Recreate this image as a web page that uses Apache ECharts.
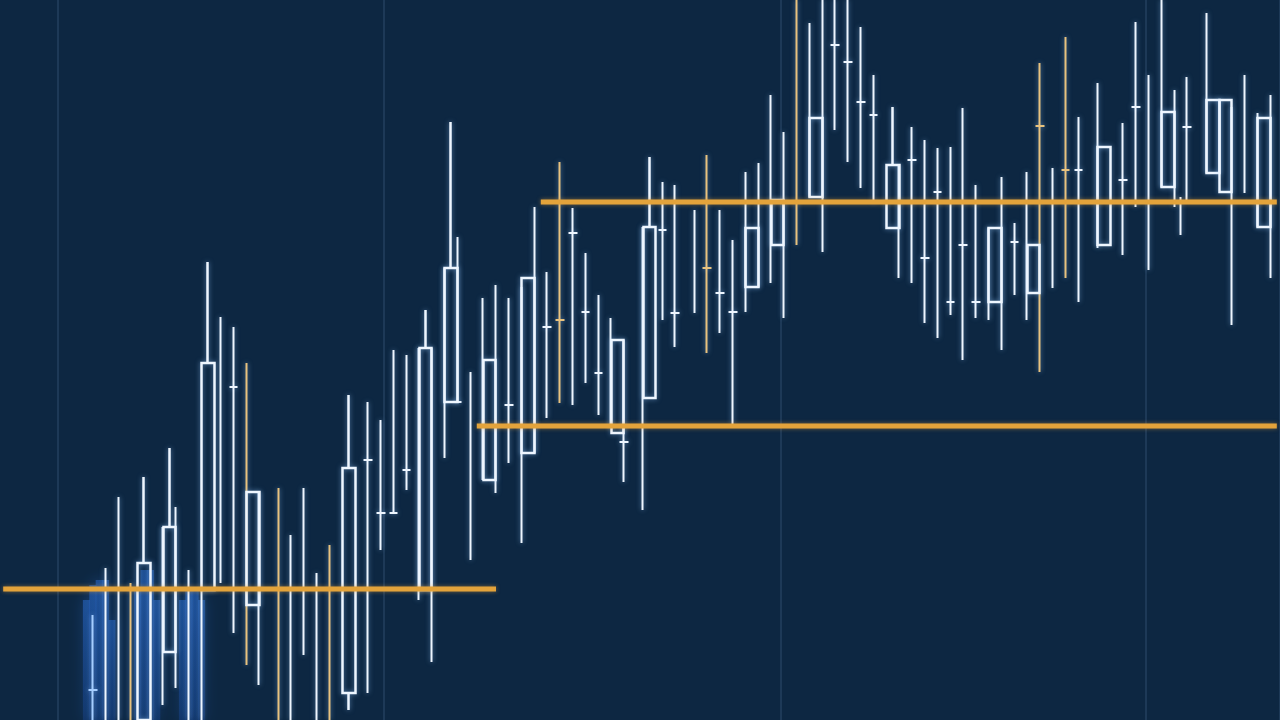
<!DOCTYPE html>
<html>
<head>
<meta charset="utf-8">
<script src="https://cdn.jsdelivr.net/npm/echarts@6/dist/echarts.min.js"></script>
<style>
html,body{margin:0;padding:0;background:#0d2742;}
#chart{width:1280px;height:720px;}
</style>
</head>
<body>
<div id="chart"></div>
<script>
// ---- data (prices; slot = candle position index) ----
const slotCount = 200;
const gridSlots = [9, 60, 122, 179];
// [fromSlot, toSlot, price]
const levels = [[0, 77, 131], [74, 199, 294], [84, 199, 518]];
// thin candles: [slot, low, high, tick(null = none), tint]
const wicks = [
  [14, 0, 105, 30, 'b'], [16, 0, 152, null, ''], [18, 0, 223, null, ''], [20, 0, 137, null, 'y'],
  [25, 15, 193, null, ''], [27, 32, 213, null, ''], [29, 0, 150, null, ''], [31, 0, 130, null, ''],
  [34, 137, 403, null, ''], [36, 87, 393, 333, ''], [38, 55, 357, null, 'y'], [40, 35, 228, null, ''],
  [43, 0, 232, null, 'y'], [45, 0, 185, null, ''], [47, 65, 232, null, ''], [49, 0, 147, null, ''],
  [51, 0, 175, null, 'y'], [57, 27, 318, 260, ''], [59, 170, 300, 207, ''], [61, 207, 370, 207, ''],
  [63, 230, 365, 250, ''], [65, 120, 372, null, ''], [67, 58, 372, null, ''], [69, 262, 452, null, ''],
  [71, 318, 483, 318, ''], [73, 160, 348, null, ''], [75, 240, 422, null, ''], [77, 227, 435, null, ''],
  [79, 257, 422, 315, ''], [81, 177, 433, null, ''], [83, 267, 513, null, ''], [85, 302, 448, 393, ''],
  [87, 317, 558, 400, 'y'], [89, 315, 512, 487, ''], [91, 337, 467, 408, ''], [93, 305, 425, 347, ''],
  [95, 292, 402, null, ''], [97, 238, 380, 278, ''], [100, 210, 493, null, ''], [103, 400, 538, 490, ''],
  [105, 373, 535, 407, ''], [108, 407, 510, null, ''], [110, 367, 565, 452, 'y'], [112, 387, 510, 427, ''],
  [114, 295, 480, 408, ''], [116, 408, 548, null, ''], [118, 433, 557, null, ''], [120, 437, 625, null, ''],
  [122, 402, 588, null, ''], [124, 475, 720, null, 'y'], [126, 523, 697, null, ''], [128, 468, 720, null, ''],
  [130, 590, 720, 675, ''], [132, 558, 720, 658, ''], [134, 532, 693, 618, ''], [136, 517, 645, 605, ''],
  [140, 442, 555, null, ''], [142, 437, 593, 560, ''], [144, 397, 580, 462, ''], [146, 382, 572, 528, ''],
  [148, 405, 573, 418, ''], [150, 360, 612, 475, ''], [152, 402, 535, 418, ''], [154, 400, 492, null, ''],
  [156, 370, 543, null, ''], [158, 425, 497, 478, ''], [160, 400, 548, null, ''], [162, 348, 657, 594, 'y'],
  [164, 432, 552, null, ''], [166, 442, 683, 550, 'y'], [168, 418, 603, 550, ''], [171, 472, 637, null, ''],
  [175, 465, 597, 540, ''], [177, 513, 698, 613, ''], [179, 450, 645, null, ''], [181, 533, 720, null, ''],
  [183, 513, 630, null, ''], [184, 485, 523, null, ''], [185, 520, 643, 593, ''], [188, 547, 707, null, ''],
  [192, 395, 613, null, ''], [194, 527, 645, null, ''], [196, 493, 607, null, ''], [198, 442, 625, null, '']
];
// hollow candles: [slot, open, close, low, high]
const boxes = [
  [22, 0, 157, 0, 243], [26, 68, 193, 68, 272], [32, 130, 357, 130, 458], [39, 115, 228, 115, 228],
  [54, 27, 252, 10, 325], [66, 130, 372, 130, 410], [70, 318, 452, 318, 598], [76, 240, 360, 240, 360],
  [82, 267, 442, 267, 442], [96, 287, 380, 287, 380], [101, 322, 493, 322, 563], [117, 433, 492, 433, 492],
  [121, 475, 520, 475, 520], [127, 523, 602, 523, 602], [139, 492, 555, 492, 613], [155, 418, 492, 418, 492],
  [161, 427, 475, 427, 475], [172, 475, 573, 475, 573], [182, 533, 608, 533, 608], [189, 547, 620, 547, 620],
  [191, 528, 620, 528, 620], [197, 493, 602, 493, 602]
];
const glowSlots = [13, 14, 15, 16, 17, 21, 22, 23, 24, 28, 29, 30, 31];
const glowValues = [120, 135, 140, 140, 100, 130, 150, 150, 120, 120, 130, 130, 120];

// ---- build ----
const WHITE = '#eef6ff', YEL = '#e8c27e', BLUE = '#a5cdff', ORANGE = '#e3a33b';
const cats = Array.from({length: slotCount}, (_, i) => String(i));
const tintColor = t => t === 'y' ? YEL : (t === 'b' ? BLUE : WHITE);
const ticked = [], plain = [];
wicks.forEach(([s, lo, hi, tick, tint]) => {
  const c = tintColor(tint);
  const style = {borderColor: c, borderColor0: c};
  if (tick == null) plain.push({value: [String(s), hi, hi, lo, hi], itemStyle: style});
  else ticked.push({value: [String(s), tick, tick, lo, hi], itemStyle: style});
});
const boxData = boxes.map(([s, o, c, l, h]) => [String(s), o, c, l, h]);
const glowData = glowSlots.map((s, i) => [String(s), glowValues[i]]);

const candleBase = {
  type: 'candlestick',
  encode: {x: 0, y: [1, 2, 3, 4]},
  animation: false,
  silent: true,
  itemStyle: {
    color: 'transparent', color0: 'transparent',
    borderColor: WHITE, borderColor0: WHITE, borderWidth: 2,
    shadowBlur: 5, shadowColor: 'rgba(150,200,255,0.55)'
  }
};

const series = [
  {
    type: 'bar', data: glowData, barWidth: 7, silent: true, animation: false, z: 1,
    itemStyle: {
      color: {type: 'linear', x: 0, y: 0, x2: 0, y2: 1, colorStops: [
        {offset: 0, color: 'rgba(40,105,200,0.55)'},
        {offset: 1, color: 'rgba(25,75,160,0.35)'}
      ]},
      shadowBlur: 14, shadowColor: 'rgba(50,120,230,0.45)'
    }
  },
  Object.assign({}, candleBase, {name: 'plain', data: plain, barWidth: 1, z: 3}),
  Object.assign({}, candleBase, {name: 'ticked', data: ticked, barWidth: 9, z: 3}),
  Object.assign({}, candleBase, {name: 'boxes', data: boxData, barWidth: 13, z: 4,
    itemStyle: Object.assign({}, candleBase.itemStyle, {borderWidth: 2.5})})
];
levels.forEach(([a, b, v]) => {
  series.push({
    type: 'line', data: [[String(a), v], [String(b), v]], symbol: 'none', silent: true,
    animation: false, z: 6,
    lineStyle: {color: ORANGE, width: 5, shadowBlur: 4, shadowColor: 'rgba(230,160,60,0.5)'}
  });
});

const chart = echarts.init(document.getElementById('chart'));
chart.setOption({
  backgroundColor: '#0d2742',
  grid: {left: 0, right: 0, top: 0, bottom: 0, containLabel: false},
  xAxis: {
    type: 'category', data: cats, boundaryGap: true,
    axisLine: {show: false}, axisTick: {show: false}, axisLabel: {show: false},
    splitLine: {show: true, interval: (i) => gridSlots.indexOf(i) >= 0,
      lineStyle: {color: '#23415f', width: 1.5}}
  },
  yAxis: {type: 'value', min: 0, max: 720, show: false, splitLine: {show: false}},
  series: series
});
</script>
</body>
</html>
